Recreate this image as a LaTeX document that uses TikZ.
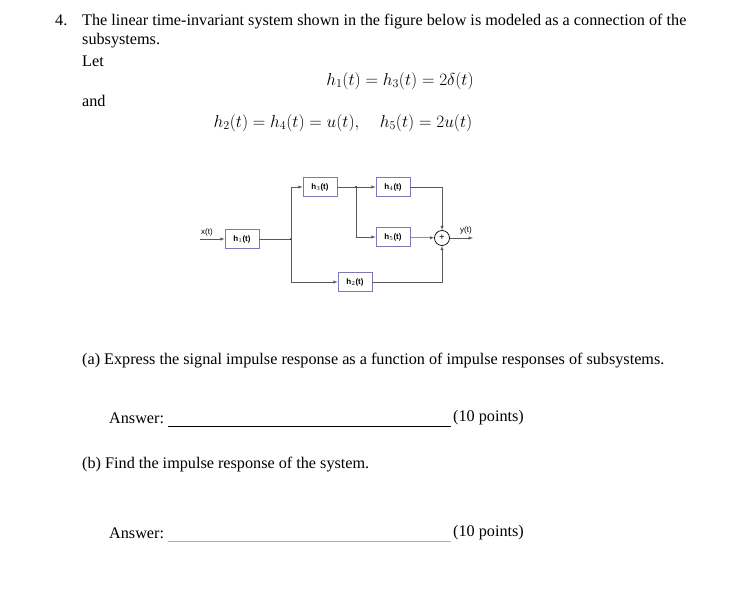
\documentclass[tikz,border=0pt]{standalone}
\usepackage{fontspec}
\setmainfont{Liberation Serif}
\newfontfamily\dsans{Liberation Sans}
\begin{document}
\begin{tikzpicture}[x=1pt,y=-1pt,
  txt/.style={anchor=west,inner sep=0,font=\fontsize{16.2}{18}\selectfont},
  eq/.style={inner sep=0,font=\fontsize{17.6}{19}\selectfont},
  blk/.style={draw=blue!30!gray!80,line width=0.7pt,minimum width=34pt,minimum height=19pt,inner sep=0,font=\dsans\fontsize{8}{9}\selectfont\bfseries},
  wire/.style={draw=gray!70!black,line width=0.5pt},
  arr/.style={wire,-latex},
  lab/.style={inner sep=0,font=\dsans\fontsize{8}{9}\selectfont}]
\useasboundingbox (0,0) rectangle (747,589);
\node[txt,anchor=base west] (n4) at (55,25) {4.};
\node[txt,anchor=base west] (l1) at (82,25) {The linear time-invariant system shown in the figure below is modeled as a connection of the};
\node[txt] (l2) at (82,41) {subsystems.};
\node[txt] (l3) at (82,61) {Let};
\node[eq] (e1) at (400,81) {$h_1(t)=h_3(t)=2\delta(t)$};
\node[eq] (e2) at (343,123) {$h_2(t)=h_4(t)=u(t),\quad h_5(t)=2u(t)$};
\node[txt] (l4) at (82,101) {and};
% diagram
\node[blk] (h1) at (242,239) {h$_1$(t)};
\node[blk] (h3) at (320,187) {h$_3$(t)};
\node[blk] (h4) at (393,187) {h$_4$(t)};
\node[blk] (h5) at (393,237) {h$_5$(t)};
\node[blk] (h2) at (355,282) {h$_2$(t)};
\node[draw=black,circle,line width=0.7pt,minimum size=15pt,inner sep=0,font=\bfseries] (s) at (442,238) {+};
\coordinate (xin) at (200,239);
\coordinate (j1) at (291,239);
\coordinate (j1t) at (291,187);
\coordinate (j1b) at (291,282);
\coordinate (j2) at (356,187);
\coordinate (j2b) at (356,237);
\coordinate (yout) at (473,238);
\node[lab,anchor=south] (xl) at (207,236) {x(t)};
\node[lab,anchor=south] (yl) at (466,234) {y(t)};
\draw[arr] (xin) -- (h1);
\draw[wire] (h1) -- (j1);
\fill (j1) circle (1pt);
\draw[arr] (j1) -- (j1t) -- (h3);
\draw[arr] (j1) -- (j1b) -- (h2);
\draw[arr] (h3) -- (h4);
\fill (j2) circle (1pt);
\draw[arr] (j2) -- (j2b) -- (h5);
\draw[arr] (h4) -| (s);
\draw[arr] (h5) -- (s);
\draw[arr] (h2) -| (s);
\draw[arr] (s) -- (yout);
% questions
\node[txt] (qa) at (82,361) {(a) Express the signal impulse response as a function of impulse responses of subsystems.};
\node[txt] (a1) at (109,418) {Answer:};
\coordinate (a1s) at (168,426); \coordinate (a1e) at (451,426);
\draw[line width=0.6pt] (a1s) -- (a1e);
\node[txt] (p1) at (453,418) {(10 points)};
\node[txt] (qb) at (82,465) {(b) Find the impulse response of the system.};
\node[txt] (a2) at (109,533) {Answer:};
\coordinate (a2s) at (168,541); \coordinate (a2e) at (451,541);
\draw[line width=0.5pt,gray!60] (a2s) -- (a2e);
\node[txt] (p2) at (453,533) {(10 points)};
\end{tikzpicture}
\end{document}
